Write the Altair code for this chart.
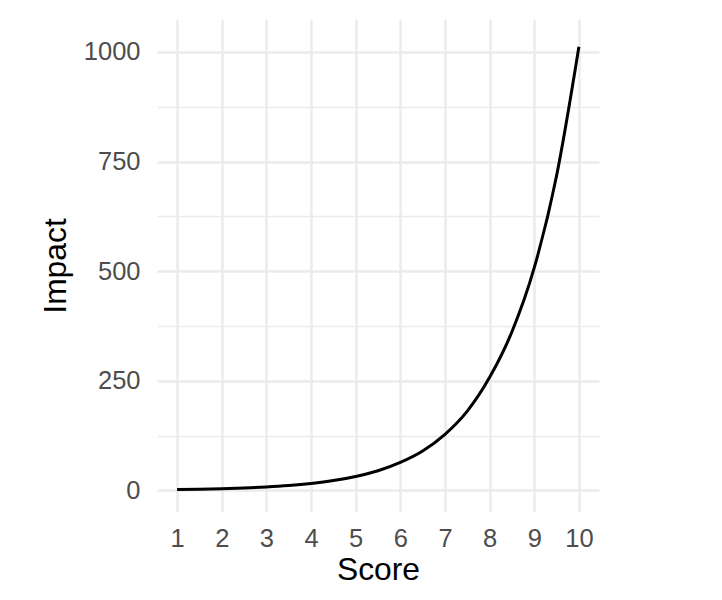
import altair as alt
import pandas as pd

score = [1, 1.5, 2, 2.5, 3, 3.5, 4, 4.5, 5, 5.5, 6, 6.5, 7, 7.5, 8, 8.5, 9, 9.5, 10]
impact = [2, 2.8, 4, 5.7, 8, 11.3, 16, 22.6, 32, 45, 64, 90, 128, 181, 258, 362, 508, 718, 1012]

x_ticks = [1, 2, 3, 4, 5, 6, 7, 8, 9, 10]
y_grid = [0, 125, 250, 375, 500, 625, 750, 875, 1000]

df = pd.DataFrame({"Score": score, "Impact": impact})

FONT = "Liberation Sans"

chart = alt.Chart(df).mark_line(
    color="black", strokeWidth=3, interpolate="monotone"
).encode(
    x=alt.X(
        "Score:Q",
        scale=alt.Scale(domain=[0.55, 10.45], nice=False, zero=False),
        axis=alt.Axis(
            values=x_ticks, title="Score", domain=False, ticks=False, tickSize=0,
            labelFont=FONT, labelFontSize=25.5, labelColor="#4D4D4D", labelPadding=14,
            titleFont=FONT, titleFontSize=31.8, titleFontWeight="normal", titleColor="black",
            titlePadding=3, gridColor="#EBEBEB", gridWidth=2.5, labelFlush=False,
        ),
    ),
    y=alt.Y(
        "Impact:Q",
        scale=alt.Scale(domain=[-49.1, 1075.1], nice=False, zero=False),
        axis=alt.Axis(
            values=y_grid, title="Impact", domain=False, ticks=False, tickSize=0,
            format="d",
            labelExpr="datum.value % 250 === 0 ? datum.label : ''",
            labelFont=FONT, labelFontSize=25.5, labelColor="#4D4D4D", labelPadding=17,
            titleFont=FONT, titleFontSize=31.8, titleFontWeight="normal", titleColor="black",
            titlePadding=11, gridColor="#EBEBEB", labelFlush=False,
            gridWidth={"condition": {"test": "datum.value % 250 === 0", "value": 2.5}, "value": 1.3},
        ),
    ),
).properties(
    width=442,
    height=493,
    autosize=alt.AutoSizeParams(type="none"),
    padding={"left": 149, "top": 11, "right": 30, "bottom": 80},
).configure_view(stroke=None)

chart.save("out.html", embed_options={"renderer": "svg", "actions": False})
